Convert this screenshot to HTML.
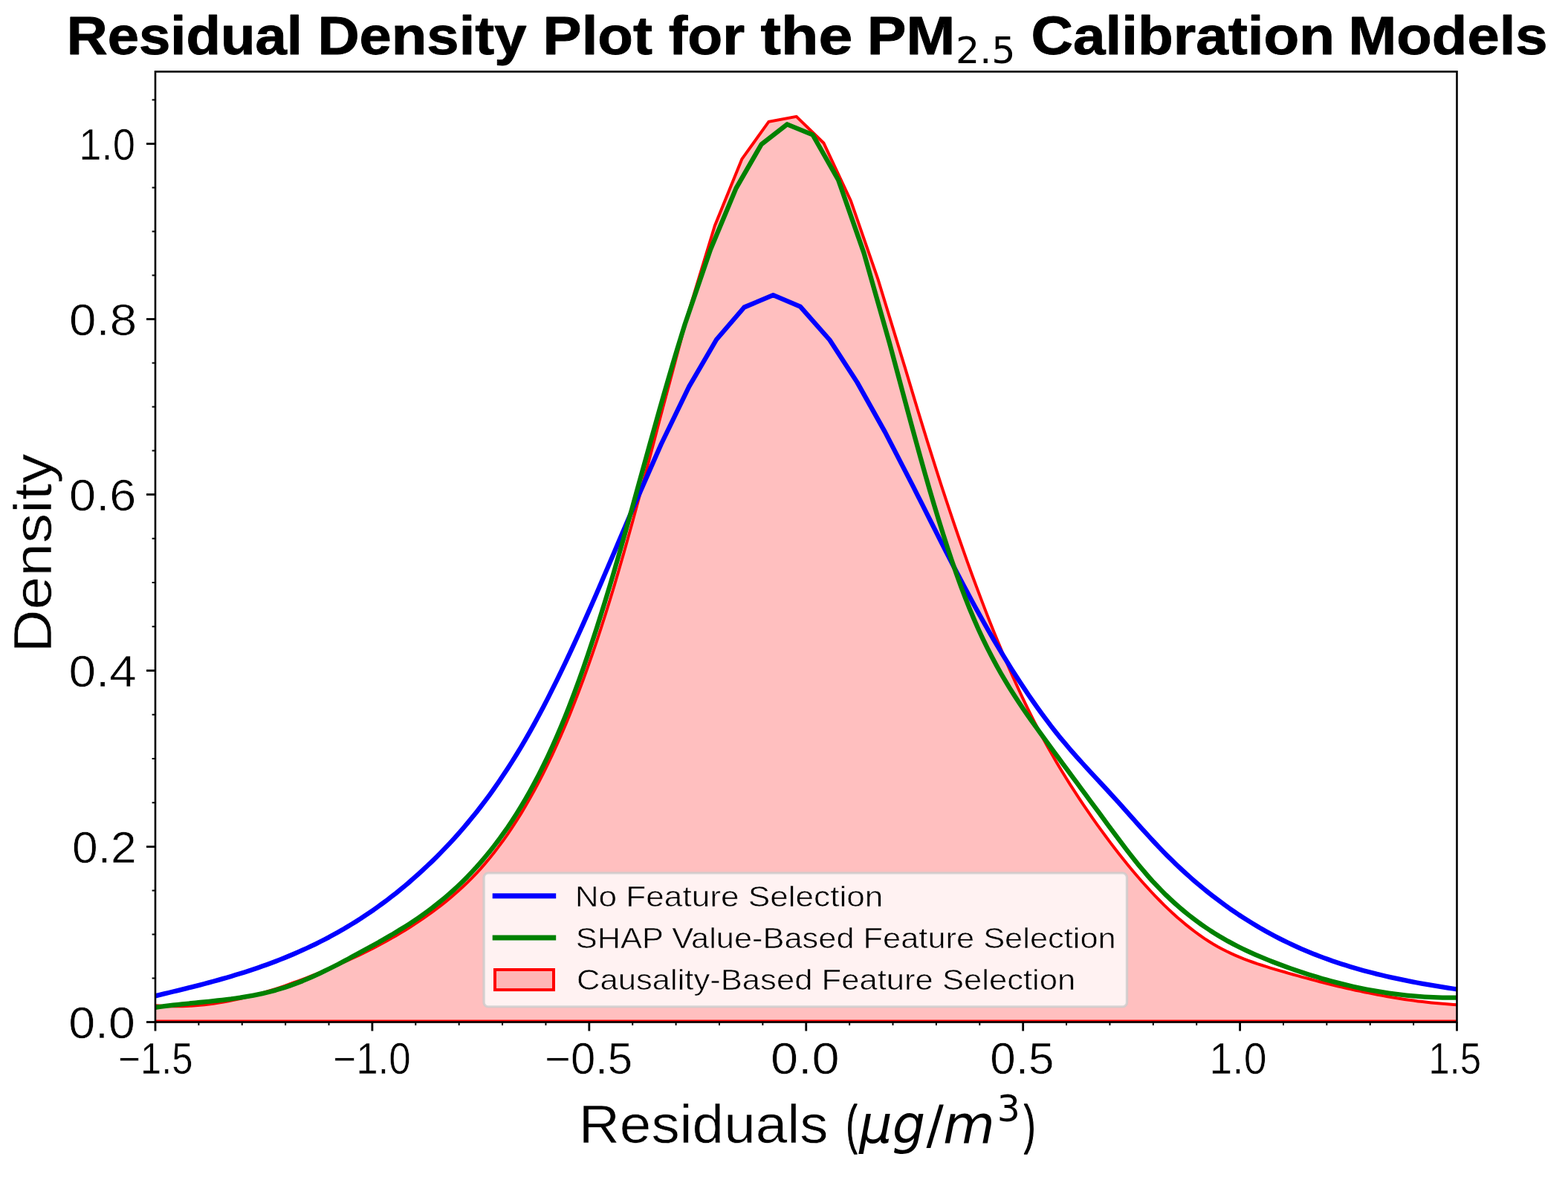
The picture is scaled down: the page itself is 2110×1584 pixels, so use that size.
<!DOCTYPE html>
<html lang="en">
<head>
<meta charset="utf-8">
<title>Residual Density Plot for the PM2.5 Calibration Models</title>
<style>
html,body{margin:0;padding:0;background:#ffffff;}
body{width:2110px;height:1584px;overflow:hidden;}
svg{display:block;}
text{fill:#000000;white-space:pre;}
</style>
</head>
<body>
<svg width="2110" height="1584" viewBox="0 0 2110 1584">
<rect x="0" y="0" width="2110" height="1584" fill="#ffffff"/>
<defs><clipPath id="ax"><rect x="209.0" y="96.4" width="1751.5" height="1280.3"/></clipPath></defs>
<g clip-path="url(#ax)" fill="none" stroke-linejoin="round" stroke-linecap="butt">
<polygon points="197.0,1374.60 197.0,1353.2 203.0,1353.2 209.0,1353.2 215.0,1353.6 221.0,1354.0 227.0,1354.2 233.0,1354.3 239.0,1354.3 245.0,1354.2 251.0,1354.0 257.0,1353.7 263.0,1353.3 269.0,1352.8 275.0,1352.2 281.0,1351.5 287.0,1350.7 293.0,1349.8 299.0,1348.8 305.0,1347.8 311.0,1346.6 317.0,1345.4 323.0,1344.0 329.0,1342.6 335.0,1341.2 341.0,1339.6 347.0,1338.0 353.0,1336.3 359.0,1334.5 365.0,1332.7 371.0,1330.8 377.0,1328.8 383.0,1326.8 389.0,1324.7 395.0,1322.5 401.0,1320.3 407.0,1318.1 413.0,1315.8 419.0,1313.4 425.0,1311.0 431.0,1308.6 437.0,1306.1 443.0,1303.6 449.0,1301.0 455.0,1298.4 461.0,1295.7 467.0,1293.0 473.0,1290.3 479.0,1287.5 485.0,1284.6 491.0,1281.7 497.0,1278.7 503.0,1275.6 509.0,1272.5 515.0,1269.3 521.0,1266.0 527.0,1262.6 533.0,1259.2 539.0,1255.6 545.0,1252.0 551.0,1248.2 557.0,1244.3 563.0,1240.4 569.0,1236.3 575.0,1232.1 581.0,1227.8 587.0,1223.4 593.0,1218.8 599.0,1214.1 605.0,1209.2 611.0,1204.1 617.0,1198.8 623.0,1193.3 629.0,1187.6 635.0,1181.6 641.0,1175.3 647.0,1168.8 653.0,1161.9 659.0,1154.7 665.0,1147.3 671.0,1139.4 677.0,1131.3 683.0,1122.8 689.0,1113.9 695.0,1104.7 701.0,1095.1 707.0,1085.0 713.0,1074.6 719.0,1063.8 725.0,1052.5 731.0,1040.8 737.0,1028.7 743.0,1016.1 749.0,1003.0 755.0,989.4 761.0,975.4 767.0,960.9 773.0,945.8 779.0,930.3 785.0,914.2 791.0,897.6 797.0,880.5 803.0,862.9 809.0,844.7 815.0,825.9 821.0,806.6 827.0,786.8 833.0,766.4 839.0,745.6 845.0,724.3 851.0,702.7 857.0,680.7 863.0,658.5 869.0,636.0 875.0,613.3 881.0,590.5 888.7,561.1 925.3,424.1 961.9,303.7 998.3,214.2 1034.5,163.7 1071.7,156.8 1108.4,192.5 1144.9,270.2 1181.5,375.8 1218.1,495.6 1224.1,515.6 1230.1,535.6 1236.1,555.5 1242.1,575.1 1248.1,594.6 1254.1,613.7 1260.1,632.6 1266.1,651.3 1272.1,669.6 1278.1,687.7 1284.1,705.5 1290.1,723.0 1296.1,740.2 1302.1,757.1 1308.1,773.7 1314.1,789.9 1320.1,805.9 1326.1,821.6 1332.1,836.9 1338.1,852.0 1344.1,866.6 1350.1,881.0 1356.1,895.0 1362.1,908.7 1368.1,922.0 1374.1,935.0 1380.1,947.6 1386.1,959.9 1392.1,971.8 1398.1,983.3 1404.1,994.5 1410.1,1005.5 1416.1,1016.1 1422.1,1026.4 1428.1,1036.5 1434.1,1046.3 1440.1,1055.9 1446.1,1065.2 1452.1,1074.4 1458.1,1083.4 1464.1,1092.2 1470.1,1100.8 1476.1,1109.3 1482.1,1117.6 1488.1,1125.8 1494.1,1133.9 1500.1,1141.8 1506.1,1149.5 1512.1,1157.1 1518.1,1164.5 1524.1,1171.7 1530.1,1178.8 1536.1,1185.7 1542.1,1192.4 1548.1,1199.0 1554.1,1205.4 1560.1,1211.5 1566.1,1217.6 1572.1,1223.4 1578.1,1229.0 1584.1,1234.4 1590.1,1239.6 1596.1,1244.6 1602.1,1249.4 1608.1,1254.0 1614.1,1258.4 1620.1,1262.6 1626.1,1266.5 1632.1,1270.2 1638.1,1273.7 1644.1,1276.9 1650.1,1280.0 1656.1,1282.9 1662.1,1285.6 1668.1,1288.2 1674.1,1290.6 1680.1,1292.8 1686.1,1295.0 1692.1,1297.1 1698.1,1299.0 1704.1,1300.9 1710.1,1302.8 1716.1,1304.6 1722.1,1306.3 1728.1,1308.0 1734.1,1309.8 1740.1,1311.5 1746.1,1313.1 1752.1,1314.8 1758.1,1316.4 1764.1,1318.0 1770.1,1319.6 1776.1,1321.2 1782.1,1322.7 1788.1,1324.2 1794.1,1325.7 1800.1,1327.2 1806.1,1328.6 1812.1,1330.0 1818.1,1331.3 1824.1,1332.7 1830.1,1333.9 1836.1,1335.2 1842.1,1336.4 1848.1,1337.6 1854.1,1338.8 1860.1,1339.9 1866.1,1341.0 1872.1,1342.0 1878.1,1343.0 1884.1,1344.0 1890.1,1344.9 1896.1,1345.7 1902.1,1346.6 1908.1,1347.4 1914.1,1348.1 1920.1,1348.8 1926.1,1349.4 1932.1,1350.0 1938.1,1350.6 1944.1,1351.1 1950.1,1351.6 1956.1,1352.0 1962.1,1352.4 1968.1,1352.9 1968.1,1374.60" fill="#ff0000" fill-opacity="0.25" stroke="#ff0000" stroke-width="4.0" stroke-linejoin="miter"/>
<polyline points="197.0,1342.9 203.0,1341.6 209.0,1340.3 215.0,1338.9 221.0,1337.4 227.0,1336.0 233.0,1334.5 239.0,1333.1 245.0,1331.6 251.0,1330.1 257.0,1328.6 263.0,1327.1 269.0,1325.6 275.0,1324.0 281.0,1322.4 287.0,1320.8 293.0,1319.1 299.0,1317.4 305.0,1315.7 311.0,1313.9 317.0,1312.1 323.0,1310.3 329.0,1308.4 335.0,1306.4 341.0,1304.4 347.0,1302.4 353.0,1300.3 359.0,1298.2 365.0,1296.0 371.0,1293.7 377.0,1291.4 383.0,1289.0 389.0,1286.5 395.0,1284.0 401.0,1281.4 407.0,1278.7 413.0,1276.0 419.0,1273.2 425.0,1270.3 431.0,1267.3 437.0,1264.2 443.0,1261.1 449.0,1257.8 455.0,1254.5 461.0,1251.1 467.0,1247.5 473.0,1243.9 479.0,1240.2 485.0,1236.4 491.0,1232.4 497.0,1228.4 503.0,1224.3 509.0,1220.0 515.0,1215.6 521.0,1211.2 527.0,1206.6 533.0,1201.9 539.0,1197.0 545.0,1192.1 551.0,1187.0 557.0,1181.7 563.0,1176.4 569.0,1170.9 575.0,1165.3 581.0,1159.6 587.0,1153.7 593.0,1147.6 599.0,1141.4 605.0,1135.1 611.0,1128.6 617.0,1121.9 623.0,1115.0 629.0,1107.9 635.0,1100.6 641.0,1093.2 647.0,1085.5 653.0,1077.6 659.0,1069.5 665.0,1061.1 671.0,1052.5 677.0,1043.6 683.0,1034.5 689.0,1025.1 695.0,1015.5 701.0,1005.6 707.0,995.4 713.0,984.9 719.0,974.1 725.0,963.0 731.0,951.7 737.0,940.1 743.0,928.2 749.0,916.2 755.0,903.8 761.0,891.3 767.0,878.6 773.0,865.6 779.0,852.5 785.0,839.1 791.0,825.6 797.0,812.0 803.0,798.2 809.0,784.3 815.0,770.3 821.0,756.3 827.0,742.2 833.0,728.1 839.0,714.0 845.0,699.9 851.9,683.7 889.6,598.0 927.3,520.2 964.1,457.0 1001.5,413.5 1040.4,397.1 1076.9,412.7 1116.5,457.5 1153.5,514.6 1191.2,581.9 1228.9,654.9 1234.9,666.8 1240.9,678.7 1246.9,690.6 1252.9,702.5 1258.9,714.4 1264.9,726.3 1270.9,738.1 1276.9,749.8 1282.9,761.5 1288.9,773.0 1294.9,784.5 1300.9,795.8 1306.9,806.9 1312.9,817.9 1318.9,828.8 1324.9,839.5 1330.9,850.0 1336.9,860.3 1342.9,870.4 1348.9,880.4 1354.9,890.2 1360.9,899.8 1366.9,909.3 1372.9,918.5 1378.9,927.6 1384.9,936.4 1390.9,945.1 1396.9,953.6 1402.9,961.9 1408.9,969.9 1414.9,977.8 1420.9,985.5 1426.9,992.9 1432.9,1000.1 1438.9,1007.2 1444.9,1014.1 1450.9,1020.9 1456.9,1027.5 1462.9,1034.1 1468.9,1040.6 1474.9,1047.1 1480.9,1053.5 1486.9,1060.0 1492.9,1066.5 1498.9,1073.1 1504.9,1079.7 1510.9,1086.4 1516.9,1093.2 1522.9,1099.9 1528.9,1106.6 1534.9,1113.3 1540.9,1119.9 1546.9,1126.5 1552.9,1133.0 1558.9,1139.4 1564.9,1145.6 1570.9,1151.7 1576.9,1157.6 1582.9,1163.4 1588.9,1169.1 1594.9,1174.6 1600.9,1180.0 1606.9,1185.3 1612.9,1190.4 1618.9,1195.4 1624.9,1200.3 1630.9,1205.0 1636.9,1209.6 1642.9,1214.1 1648.9,1218.5 1654.9,1222.8 1660.9,1226.9 1666.9,1231.0 1672.9,1234.9 1678.9,1238.7 1684.9,1242.4 1690.9,1246.0 1696.9,1249.6 1702.9,1253.0 1708.9,1256.3 1714.9,1259.5 1720.9,1262.6 1726.9,1265.6 1732.9,1268.5 1738.9,1271.3 1744.9,1274.1 1750.9,1276.8 1756.9,1279.3 1762.9,1281.8 1768.9,1284.3 1774.9,1286.6 1780.9,1288.9 1786.9,1291.0 1792.9,1293.2 1798.9,1295.2 1804.9,1297.2 1810.9,1299.1 1816.9,1301.0 1822.9,1302.8 1828.9,1304.5 1834.9,1306.2 1840.9,1307.8 1846.9,1309.3 1852.9,1310.9 1858.9,1312.3 1864.9,1313.7 1870.9,1315.1 1876.9,1316.4 1882.9,1317.7 1888.9,1318.9 1894.9,1320.2 1900.9,1321.3 1906.9,1322.5 1912.9,1323.6 1918.9,1324.6 1924.9,1325.7 1930.9,1326.7 1936.9,1327.7 1942.9,1328.6 1948.9,1329.6 1954.9,1330.5 1960.9,1331.4 1966.9,1332.3" stroke="#0000ff" stroke-width="6.3"/>
<polyline points="197.0,1357.1 203.0,1356.5 209.0,1355.8 215.0,1355.0 221.0,1354.2 227.0,1353.4 233.0,1352.7 239.0,1352.1 245.0,1351.4 251.0,1350.8 257.0,1350.2 263.0,1349.6 269.0,1349.0 275.0,1348.4 281.0,1347.8 287.0,1347.2 293.0,1346.5 299.0,1345.8 305.0,1345.1 311.0,1344.4 317.0,1343.5 323.0,1342.7 329.0,1341.7 335.0,1340.7 341.0,1339.6 347.0,1338.4 353.0,1337.1 359.0,1335.7 365.0,1334.2 371.0,1332.6 377.0,1330.8 383.0,1329.0 389.0,1327.0 395.0,1324.8 401.0,1322.5 407.0,1320.2 413.0,1317.7 419.0,1315.1 425.0,1312.4 431.0,1309.6 437.0,1306.7 443.0,1303.7 449.0,1300.7 455.0,1297.7 461.0,1294.5 467.0,1291.4 473.0,1288.1 479.0,1284.9 485.0,1281.6 491.0,1278.3 497.0,1275.0 503.0,1271.7 509.0,1268.4 515.0,1265.0 521.0,1261.5 527.0,1258.1 533.0,1254.5 539.0,1250.8 545.0,1247.1 551.0,1243.3 557.0,1239.3 563.0,1235.3 569.0,1231.1 575.0,1226.7 581.0,1222.3 587.0,1217.6 593.0,1212.8 599.0,1207.8 605.0,1202.7 611.0,1197.3 617.0,1191.7 623.0,1185.9 629.0,1179.9 635.0,1173.6 641.0,1167.1 647.0,1160.3 653.0,1153.3 659.0,1146.0 665.0,1138.4 671.0,1130.5 677.0,1122.2 683.0,1113.7 689.0,1104.7 695.0,1095.4 701.0,1085.7 707.0,1075.6 713.0,1065.1 719.0,1054.1 725.0,1042.6 731.0,1030.7 737.0,1018.3 743.0,1005.3 749.0,991.8 755.0,977.8 761.0,963.2 767.0,948.0 773.0,932.2 779.0,915.9 785.0,899.0 791.0,881.5 797.0,863.6 803.0,845.2 809.0,826.3 815.0,806.9 821.0,787.1 827.0,766.8 833.0,746.2 839.0,725.2 845.0,703.9 851.0,682.5 857.0,660.9 863.0,639.2 869.0,617.5 875.0,595.9 881.0,574.5 887.0,553.2 893.0,532.1 899.0,511.4 905.0,490.9 911.0,470.9 917.0,451.3 921.7,436.2 956.1,335.8 990.5,253.4 1024.6,194.2 1059.3,167.3 1093.5,181.3 1128.1,242.1 1162.5,340.4 1196.9,461.4 1202.9,483.7 1208.9,506.1 1214.9,528.5 1220.9,550.9 1226.9,573.1 1232.9,595.0 1238.9,616.7 1244.9,638.0 1250.9,658.8 1256.9,679.1 1262.9,698.9 1268.9,718.1 1274.9,736.8 1280.9,754.7 1286.9,772.0 1292.9,788.6 1298.9,804.4 1304.9,819.5 1310.9,833.8 1316.9,847.4 1322.9,860.3 1328.9,872.6 1334.9,884.3 1340.9,895.5 1346.9,906.2 1352.9,916.4 1358.9,926.3 1364.9,935.8 1370.9,945.0 1376.9,953.9 1382.9,962.6 1388.9,971.1 1394.9,979.5 1400.9,987.8 1406.9,996.0 1412.9,1004.3 1418.9,1012.5 1424.9,1020.6 1430.9,1028.8 1436.9,1036.9 1442.9,1045.1 1448.9,1053.2 1454.9,1061.3 1460.9,1069.4 1466.9,1077.5 1472.9,1085.6 1478.9,1093.7 1484.9,1101.9 1490.9,1110.0 1496.9,1118.1 1502.9,1126.2 1508.9,1134.2 1514.9,1142.1 1520.9,1149.9 1526.9,1157.5 1532.9,1164.9 1538.9,1172.1 1544.9,1179.1 1550.9,1185.8 1556.9,1192.2 1562.9,1198.4 1568.9,1204.4 1574.9,1210.1 1580.9,1215.6 1586.9,1220.9 1592.9,1226.0 1598.9,1230.9 1604.9,1235.6 1610.9,1240.1 1616.9,1244.4 1622.9,1248.5 1628.9,1252.5 1634.9,1256.3 1640.9,1260.0 1646.9,1263.5 1652.9,1266.9 1658.9,1270.1 1664.9,1273.2 1670.9,1276.2 1676.9,1279.1 1682.9,1281.9 1688.9,1284.6 1694.9,1287.2 1700.9,1289.7 1706.9,1292.1 1712.9,1294.5 1718.9,1296.8 1724.9,1299.0 1730.9,1301.2 1736.9,1303.4 1742.9,1305.5 1748.9,1307.5 1754.9,1309.5 1760.9,1311.4 1766.9,1313.3 1772.9,1315.1 1778.9,1316.9 1784.9,1318.6 1790.9,1320.3 1796.9,1321.9 1802.9,1323.4 1808.9,1324.9 1814.9,1326.3 1820.9,1327.7 1826.9,1329.0 1832.9,1330.3 1838.9,1331.5 1844.9,1332.6 1850.9,1333.7 1856.9,1334.7 1862.9,1335.7 1868.9,1336.6 1874.9,1337.4 1880.9,1338.2 1886.9,1338.9 1892.9,1339.6 1898.9,1340.2 1904.9,1340.7 1910.9,1341.2 1916.9,1341.6 1922.9,1341.9 1928.9,1342.2 1934.9,1342.4 1940.9,1342.6 1946.9,1342.6 1952.9,1342.6 1958.9,1342.6 1964.9,1342.8 1970.9,1343.0" stroke="#008000" stroke-width="6.3"/>
</g>
<g stroke="#000000" fill="none">
<line x1="209.00" y1="1375.50" x2="209.00" y2="1387.50" stroke-width="2.8"/>
<line x1="267.38" y1="1375.50" x2="267.38" y2="1379.90" stroke-width="2.0"/>
<line x1="325.77" y1="1375.50" x2="325.77" y2="1379.90" stroke-width="2.0"/>
<line x1="384.15" y1="1375.50" x2="384.15" y2="1379.90" stroke-width="2.0"/>
<line x1="442.53" y1="1375.50" x2="442.53" y2="1379.90" stroke-width="2.0"/>
<line x1="500.92" y1="1375.50" x2="500.92" y2="1387.50" stroke-width="2.8"/>
<line x1="559.30" y1="1375.50" x2="559.30" y2="1379.90" stroke-width="2.0"/>
<line x1="617.68" y1="1375.50" x2="617.68" y2="1379.90" stroke-width="2.0"/>
<line x1="676.07" y1="1375.50" x2="676.07" y2="1379.90" stroke-width="2.0"/>
<line x1="734.45" y1="1375.50" x2="734.45" y2="1379.90" stroke-width="2.0"/>
<line x1="792.83" y1="1375.50" x2="792.83" y2="1387.50" stroke-width="2.8"/>
<line x1="851.22" y1="1375.50" x2="851.22" y2="1379.90" stroke-width="2.0"/>
<line x1="909.60" y1="1375.50" x2="909.60" y2="1379.90" stroke-width="2.0"/>
<line x1="967.98" y1="1375.50" x2="967.98" y2="1379.90" stroke-width="2.0"/>
<line x1="1026.37" y1="1375.50" x2="1026.37" y2="1379.90" stroke-width="2.0"/>
<line x1="1084.75" y1="1375.50" x2="1084.75" y2="1387.50" stroke-width="2.8"/>
<line x1="1143.13" y1="1375.50" x2="1143.13" y2="1379.90" stroke-width="2.0"/>
<line x1="1201.52" y1="1375.50" x2="1201.52" y2="1379.90" stroke-width="2.0"/>
<line x1="1259.90" y1="1375.50" x2="1259.90" y2="1379.90" stroke-width="2.0"/>
<line x1="1318.28" y1="1375.50" x2="1318.28" y2="1379.90" stroke-width="2.0"/>
<line x1="1376.67" y1="1375.50" x2="1376.67" y2="1387.50" stroke-width="2.8"/>
<line x1="1435.05" y1="1375.50" x2="1435.05" y2="1379.90" stroke-width="2.0"/>
<line x1="1493.43" y1="1375.50" x2="1493.43" y2="1379.90" stroke-width="2.0"/>
<line x1="1551.82" y1="1375.50" x2="1551.82" y2="1379.90" stroke-width="2.0"/>
<line x1="1610.20" y1="1375.50" x2="1610.20" y2="1379.90" stroke-width="2.0"/>
<line x1="1668.58" y1="1375.50" x2="1668.58" y2="1387.50" stroke-width="2.8"/>
<line x1="1726.97" y1="1375.50" x2="1726.97" y2="1379.90" stroke-width="2.0"/>
<line x1="1785.35" y1="1375.50" x2="1785.35" y2="1379.90" stroke-width="2.0"/>
<line x1="1843.73" y1="1375.50" x2="1843.73" y2="1379.90" stroke-width="2.0"/>
<line x1="1902.12" y1="1375.50" x2="1902.12" y2="1379.90" stroke-width="2.0"/>
<line x1="1960.50" y1="1375.50" x2="1960.50" y2="1387.50" stroke-width="2.8"/>
<line x1="209.00" y1="1375.50" x2="197.00" y2="1375.50" stroke-width="2.8"/>
<line x1="209.00" y1="1316.50" x2="204.60" y2="1316.50" stroke-width="2.0"/>
<line x1="209.00" y1="1257.50" x2="204.60" y2="1257.50" stroke-width="2.0"/>
<line x1="209.00" y1="1198.50" x2="204.60" y2="1198.50" stroke-width="2.0"/>
<line x1="209.00" y1="1139.50" x2="197.00" y2="1139.50" stroke-width="2.8"/>
<line x1="209.00" y1="1080.25" x2="204.60" y2="1080.25" stroke-width="2.0"/>
<line x1="209.00" y1="1021.00" x2="204.60" y2="1021.00" stroke-width="2.0"/>
<line x1="209.00" y1="961.75" x2="204.60" y2="961.75" stroke-width="2.0"/>
<line x1="209.00" y1="902.50" x2="197.00" y2="902.50" stroke-width="2.8"/>
<line x1="209.00" y1="843.25" x2="204.60" y2="843.25" stroke-width="2.0"/>
<line x1="209.00" y1="784.00" x2="204.60" y2="784.00" stroke-width="2.0"/>
<line x1="209.00" y1="724.75" x2="204.60" y2="724.75" stroke-width="2.0"/>
<line x1="209.00" y1="665.50" x2="197.00" y2="665.50" stroke-width="2.8"/>
<line x1="209.00" y1="606.50" x2="204.60" y2="606.50" stroke-width="2.0"/>
<line x1="209.00" y1="547.50" x2="204.60" y2="547.50" stroke-width="2.0"/>
<line x1="209.00" y1="488.50" x2="204.60" y2="488.50" stroke-width="2.0"/>
<line x1="209.00" y1="429.50" x2="197.00" y2="429.50" stroke-width="2.8"/>
<line x1="209.00" y1="370.50" x2="204.60" y2="370.50" stroke-width="2.0"/>
<line x1="209.00" y1="311.50" x2="204.60" y2="311.50" stroke-width="2.0"/>
<line x1="209.00" y1="252.50" x2="204.60" y2="252.50" stroke-width="2.0"/>
<line x1="209.00" y1="193.50" x2="197.00" y2="193.50" stroke-width="2.8"/>
<line x1="209.00" y1="134.40" x2="204.60" y2="134.40" stroke-width="2.0"/>
</g>
<rect x="209.0" y="96.4" width="1751.5" height="1279.1" fill="none" stroke="#000000" stroke-width="2.6" stroke-linejoin="miter"/>
<g>
<rect x="651.1" y="1174.9" width="865.4" height="180.0" rx="6.0" ry="6.0" fill="#ffffff" fill-opacity="0.8" stroke="#cccccc" stroke-opacity="0.8" stroke-width="3.4"/>
<line x1="662.7" y1="1205.8" x2="748.2" y2="1205.8" stroke="#0000ff" stroke-width="6.9"/>
<line x1="662.7" y1="1262.0" x2="748.2" y2="1262.0" stroke="#008000" stroke-width="6.9"/>
<rect x="666.0" y="1305.0" width="79.0" height="27.1" fill="#ff0000" fill-opacity="0.25" stroke="#ff0000" stroke-width="4.0"/>
</g>
<g>
<text transform="translate(89.68,72.50) scale(1.0545,1.0000)" font-family='"Liberation Sans", sans-serif' font-size="72.2px" font-weight="bold" stroke="#000000" stroke-width="0.9" stroke-linejoin="round">Residual</text>
<text transform="translate(427.39,72.50) scale(1.0778,1.0000)" font-family='"Liberation Sans", sans-serif' font-size="72.2px" font-weight="bold" stroke="#000000" stroke-width="0.9" stroke-linejoin="round">Density</text>
<text transform="translate(730.58,72.50) scale(1.0811,1.0000)" font-family='"Liberation Sans", sans-serif' font-size="72.2px" font-weight="bold" stroke="#000000" stroke-width="0.9" stroke-linejoin="round">Plot</text>
<text transform="translate(899.73,72.50) scale(1.0653,1.0000)" font-family='"Liberation Sans", sans-serif' font-size="72.2px" font-weight="bold" stroke="#000000" stroke-width="0.9" stroke-linejoin="round">for</text>
<text transform="translate(1023.60,72.50) scale(1.1425,1.0000)" font-family='"Liberation Sans", sans-serif' font-size="72.2px" font-weight="bold" stroke="#000000" stroke-width="0.9" stroke-linejoin="round">the</text>
<text transform="translate(1166.82,72.50) scale(1.0950,1.0000)" font-family='"Liberation Sans", sans-serif' font-size="72.2px" font-weight="bold" stroke="#000000" stroke-width="0.9" stroke-linejoin="round">PM</text>
<text transform="translate(1285.94,85.20) scale(1.0141,1.0000)" font-family='"DejaVu Sans", sans-serif' font-size="50.0px">2.5</text>
<text transform="translate(1387.53,72.50) scale(1.0838,1.0000)" font-family='"Liberation Sans", sans-serif' font-size="72.2px" font-weight="bold" stroke="#000000" stroke-width="0.9" stroke-linejoin="round">Calibration</text>
<text transform="translate(1814.49,72.50) scale(1.0781,1.0000)" font-family='"Liberation Sans", sans-serif' font-size="72.2px" font-weight="bold" stroke="#000000" stroke-width="0.9" stroke-linejoin="round">Models</text>
<text transform="translate(106.25,215.20) scale(0.9297,1.0000)" font-family='"Liberation Sans", sans-serif' font-size="58.6px" stroke="#ffffff" stroke-width="0.60" stroke-linejoin="round">1.0</text>
<text transform="translate(93.05,451.20) scale(1.1173,1.0000)" font-family='"Liberation Sans", sans-serif' font-size="58.6px" stroke="#ffffff" stroke-width="0.60" stroke-linejoin="round">0.8</text>
<text transform="translate(93.08,687.20) scale(1.1067,1.0000)" font-family='"Liberation Sans", sans-serif' font-size="58.6px" stroke="#ffffff" stroke-width="0.60" stroke-linejoin="round">0.6</text>
<text transform="translate(92.44,924.20) scale(1.1211,1.0000)" font-family='"Liberation Sans", sans-serif' font-size="58.6px" stroke="#ffffff" stroke-width="0.60" stroke-linejoin="round">0.4</text>
<text transform="translate(97.01,1161.20) scale(1.0640,1.0000)" font-family='"Liberation Sans", sans-serif' font-size="58.6px" stroke="#ffffff" stroke-width="0.60" stroke-linejoin="round">0.2</text>
<text transform="translate(92.20,1397.20) scale(1.1013,1.0000)" font-family='"Liberation Sans", sans-serif' font-size="58.6px" stroke="#ffffff" stroke-width="0.60" stroke-linejoin="round">0.0</text>
<text transform="translate(159.20,1444.50) scale(0.8682,1.0000)" font-family='"Liberation Sans", sans-serif' font-size="58.6px" stroke="#ffffff" stroke-width="0.60" stroke-linejoin="round">−1.5</text>
<text transform="translate(448.19,1444.50) scale(0.9045,1.0000)" font-family='"Liberation Sans", sans-serif' font-size="58.6px" stroke="#ffffff" stroke-width="0.60" stroke-linejoin="round">−1.0</text>
<text transform="translate(732.93,1444.50) scale(1.0218,1.0000)" font-family='"Liberation Sans", sans-serif' font-size="58.6px" stroke="#ffffff" stroke-width="0.60" stroke-linejoin="round">−0.5</text>
<text transform="translate(1036.99,1444.50) scale(1.1382,1.0000)" font-family='"Liberation Sans", sans-serif' font-size="58.6px" stroke="#ffffff" stroke-width="0.60" stroke-linejoin="round">0.0</text>
<text transform="translate(1332.23,1444.50) scale(1.0579,1.0000)" font-family='"Liberation Sans", sans-serif' font-size="58.6px" stroke="#ffffff" stroke-width="0.60" stroke-linejoin="round">0.5</text>
<text transform="translate(1627.47,1444.50) scale(0.9459,1.0000)" font-family='"Liberation Sans", sans-serif' font-size="58.6px" stroke="#ffffff" stroke-width="0.60" stroke-linejoin="round">1.0</text>
<text transform="translate(1922.14,1444.50) scale(0.8716,1.0000)" font-family='"Liberation Sans", sans-serif' font-size="58.6px" stroke="#ffffff" stroke-width="0.60" stroke-linejoin="round">1.5</text>
<text transform="translate(778.65,1537.60) scale(1.0591,1.0000)" font-family='"Liberation Sans", sans-serif' font-size="72.2px" stroke="#ffffff" stroke-width="0.60" stroke-linejoin="round">Residuals</text>
<text transform="translate(1138.84,1537.60) scale(0.6150,1.0000)" font-family='"Liberation Sans", sans-serif' font-size="72.2px" stroke="#000000" stroke-width="1.4" stroke-linejoin="round">(</text>
<text transform="translate(1156.17,1537.60) scale(0.9733,1.0000)" font-family='"DejaVu Sans", sans-serif' font-size="72.0px" font-style="italic">μg</text>
<text transform="translate(1246.50,1537.60) scale(0.9625,1.0000)" font-family='"DejaVu Sans", sans-serif' font-size="72.0px">/</text>
<text transform="translate(1269.01,1537.60) scale(0.9952,1.0000)" font-family='"DejaVu Sans", sans-serif' font-size="72.0px" font-style="italic">m</text>
<text transform="translate(1341.72,1509.00) scale(0.9708,1.0000)" font-family='"DejaVu Sans", sans-serif' font-size="50.4px">3</text>
<text transform="translate(1378.10,1537.60) scale(0.6350,1.0000)" font-family='"Liberation Sans", sans-serif' font-size="72.2px" stroke="#000000" stroke-width="1.4" stroke-linejoin="round">)</text>
<text transform="translate(69.10,878.58) rotate(-90) scale(1.1137,1.0000)" font-family='"Liberation Sans", sans-serif' font-size="72.2px" stroke="#ffffff" stroke-width="0.60" stroke-linejoin="round">Density</text>
<text transform="translate(773.65,1220.00) scale(1.1383,1.0000)" font-family='"Liberation Sans", sans-serif' font-size="38.8px" stroke="#fff2f2" stroke-width="0.60" stroke-linejoin="round">No Feature Selection</text>
<text transform="translate(774.84,1276.40) scale(1.1186,1.0000)" font-family='"Liberation Sans", sans-serif' font-size="38.8px" stroke="#fff2f2" stroke-width="0.60" stroke-linejoin="round">SHAP Value-Based Feature Selection</text>
<text transform="translate(775.95,1332.40) scale(1.1240,1.0000)" font-family='"Liberation Sans", sans-serif' font-size="38.8px" stroke="#fff2f2" stroke-width="0.60" stroke-linejoin="round">Causality-Based Feature Selection</text>
</g>
</svg>
</body>
</html>
